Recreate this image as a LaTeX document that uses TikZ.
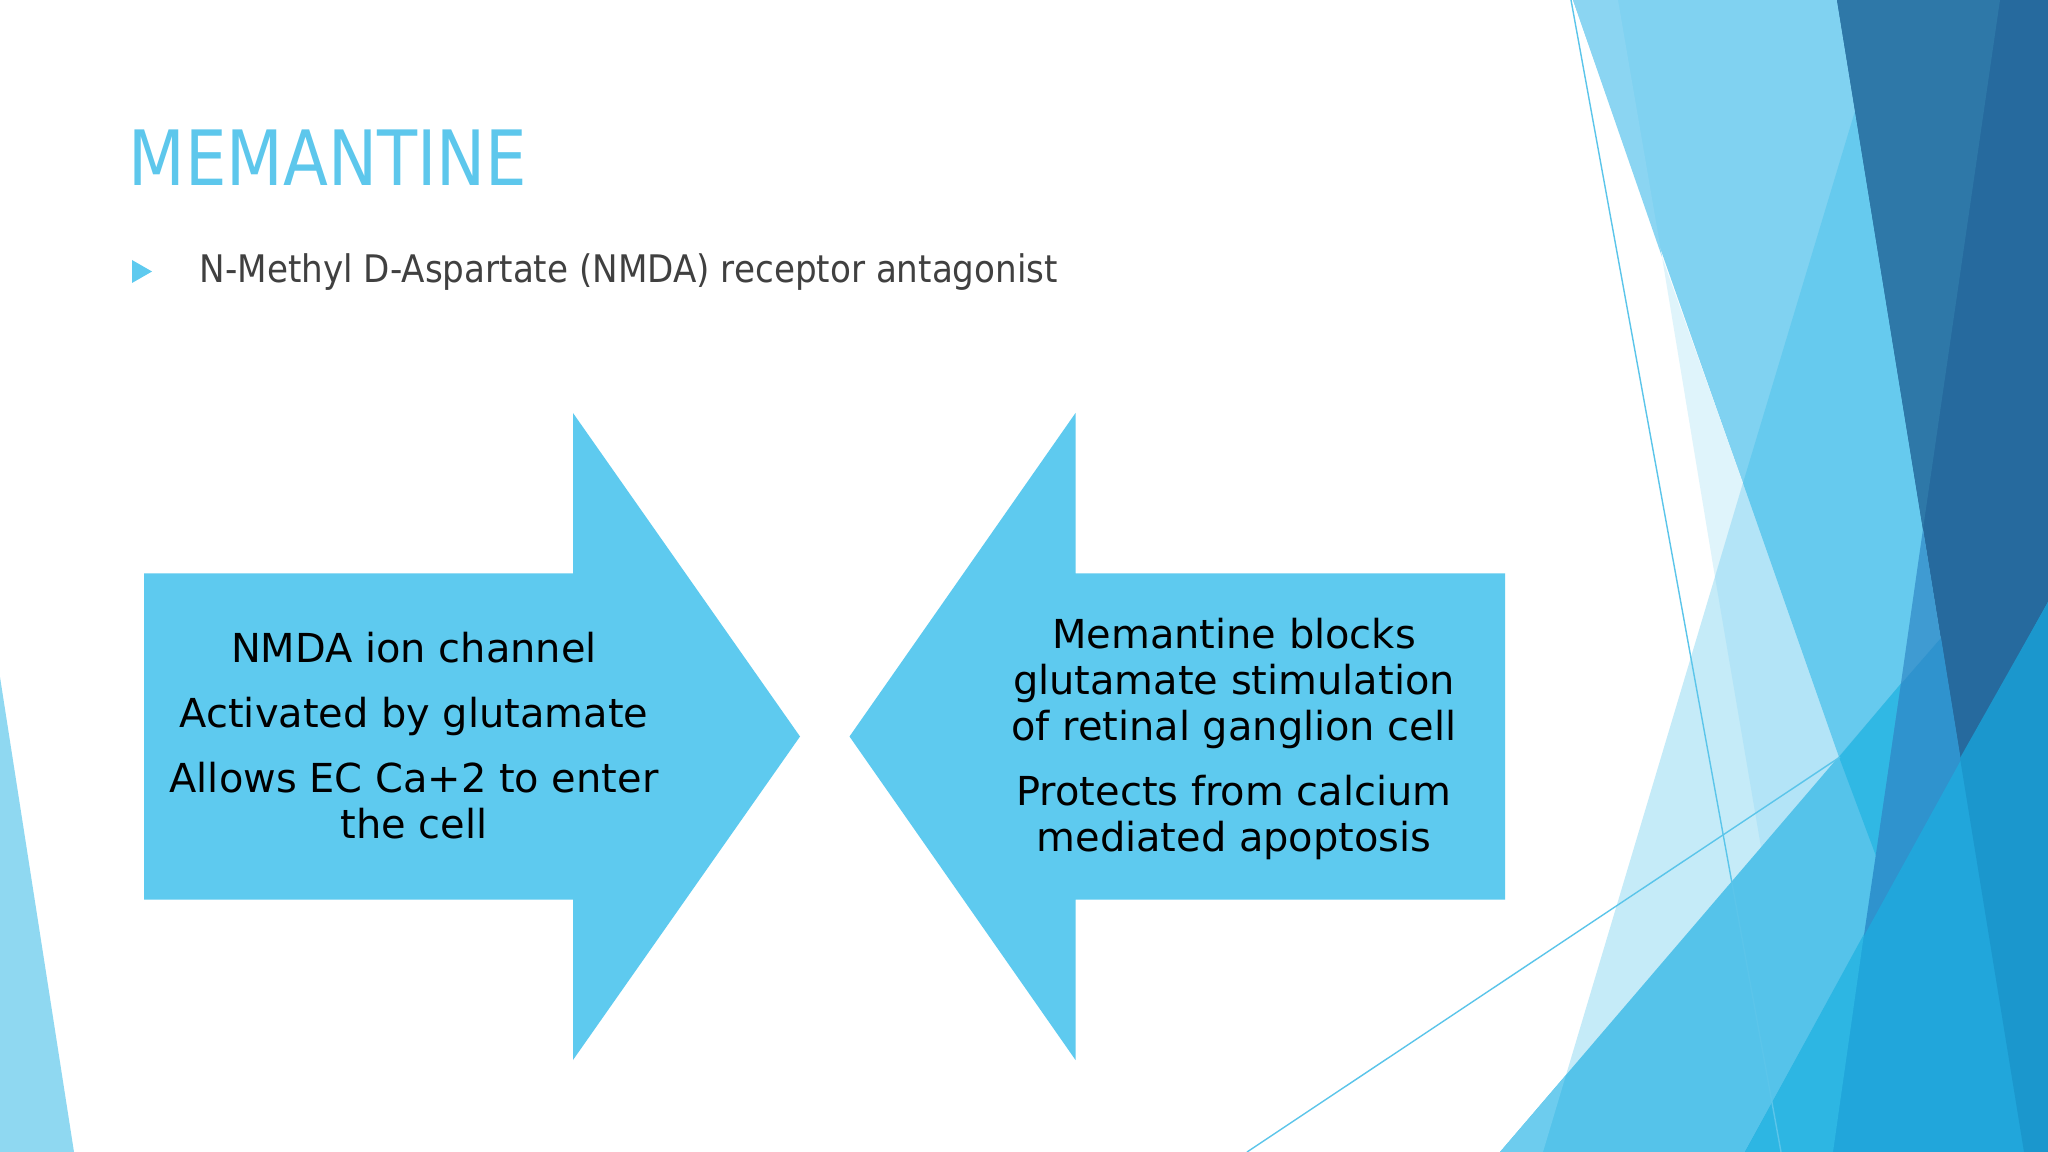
\documentclass[tikz,border=0pt]{standalone}
\usepackage{fontspec}
\setmainfont{DejaVu Sans}
\newfontfamily\titlefont[FakeStretch=0.86]{DejaVu Sans}
\newfontfamily\leadfont[FakeStretch=0.9]{DejaVu Sans}
\usepackage{tikz}
\usetikzlibrary{positioning}
\usepackage{xcolor}
\definecolor{accent}{RGB}{94, 202, 239}
\definecolor{titleBlue}{RGB}{93, 199, 236}
\definecolor{bodyGrey}{RGB}{64, 64, 64}
\definecolor{thinLine}{RGB}{91, 197, 234}
% facet colours
\definecolor{fEdge}{RGB}{143, 216, 241}
\definecolor{fLight}{RGB}{128, 210, 241}
\definecolor{fLighter}{RGB}{139, 213, 242}
\definecolor{fPale}{RGB}{223, 244, 251}
\definecolor{fPaleB}{RGB}{197, 235, 248}
\definecolor{fPaleC}{RGB}{179, 228, 247}
\definecolor{fCyan}{RGB}{102, 202, 238}
\definecolor{fDark}{RGB}{38, 106, 158}
\definecolor{fDarkB}{RGB}{46, 120, 168}
\definecolor{fMid}{RGB}{63, 155, 210}
\definecolor{fSky}{RGB}{85, 195, 234}
\definecolor{fSkyW}{RGB}{109, 204, 238}
\definecolor{fBright}{RGB}{48, 184, 228}
\definecolor{fSteel}{RGB}{47, 147, 206}
\definecolor{fDeep}{RGB}{33, 166, 219}
\definecolor{fDeepL}{RGB}{45, 182, 227}
\definecolor{fDeepR}{RGB}{27, 151, 205}

\begin{document}
\begin{tikzpicture}[
  x=0.01cm, y=-0.01cm,
  hairline/.style={draw=thinLine, line width=0.4pt},
  arrowbox/.style={fill=accent, draw=none},
  bodytext/.style={align=center, inner sep=0pt, text=black,
    font=\fontsize{11.35pt}{13.1pt}\selectfont}
]
  \fill[white] (0,0) rectangle (2048,1152);
  \useasboundingbox (0,0) rectangle (2048,1152);

  % --- Background facets (lower layers run on under the upper ones) ---
  \fill[fEdge] (0,677) -- (74,1152) -- (0,1152) -- cycle;
  \fill[fLight] (1573,0) -- (2048,0) -- (2048,757) -- (1839,757) -- cycle;
  \fill[fLighter] (1573,0) -- (1618,0) -- (1662,257) -- cycle;
  \fill[fPale] (1662,257) -- (1715,577) -- (1743,483) -- cycle;
  \fill[fPaleB] (1743,483) -- (1839,757) -- (1700,1000) -- (1543,1152) -- cycle;
  \fill[fPaleC] (1715,577) -- (1743,483) -- (1839,757) -- (1800,900) -- (1770,900) -- cycle;
  \fill[fCyan] (1855,111) -- (1743,483) -- (1860,817) -- (2000,650) -- (1900,100) -- cycle;
  \fill[fSky] (1500,1152) -- (1960,615) -- (2048,615) -- (2048,1152) -- cycle;
  \fill[fSkyW] (1500,1152) -- (1566,1075) -- (1543,1152) -- cycle;
  \fill[fBright] (1839,757) -- (1920,661) -- (1920,800) -- (1876,856) -- cycle;
  % dark band on the right
  \fill[fDark] (1837,0) -- (2048,0) -- (2048,1152) -- (2024,1152) -- cycle;
  \fill[fDarkB] (1837,0) -- (2000,0) -- (1923,529) -- cycle;
  \fill[fMid] (1923,529) -- (1960,757) -- (1880,830) -- cycle;
  \fill[fSteel] (1901,684) -- (1941,638) -- (1990,940) -- (1850,1030) -- cycle;
  % bottom right triangle
  \fill[fDeep] (2048,602) -- (2048,1152) -- (1745,1152) -- cycle;
  \fill[fDeepL] (1864,934) -- (1833,1152) -- (1745,1152) -- cycle;
  \fill[fDeepR] (1960,758) -- (2048,602) -- (2048,1152) -- (2024,1152) -- cycle;
  \draw[hairline] (1571,0) -- (1781,1152);
  \draw[hairline] (1247,1152) -- (1840,757);

  % --- Title and bullet ---
  \node[anchor=base west, inner sep=0pt, text=titleBlue,
    font=\titlefont\fontsize{21.7pt}{26pt}\selectfont] (title) at (128,186) {MEMANTINE};
  \fill[accent] (132,260) -- (152,271.5) -- (132,283) -- cycle;
  \node[anchor=base west, inner sep=0pt, text=bodyGrey,
    font=\leadfont\fontsize{10.8pt}{13pt}\selectfont] (lead) at (199,283)
    {N-Methyl D-Aspartate (NMDA) receptor antagonist};

  % --- Two opposing arrows ---
  \fill[arrowbox] (144,573.5) -- (573,573.5) -- (573,413) -- (800,736.5)
    -- (573,1060) -- (573,899.5) -- (144,899.5) -- cycle;
  \fill[arrowbox] (1505,573.5) -- (1075.5,573.5) -- (1075.5,413) -- (849.5,736.5)
    -- (1075.5,1060) -- (1075.5,899.5) -- (1505,899.5) -- cycle;

  \node[bodytext, anchor=north] (channel) at (414,631)
    {NMDA ion channel\\[5.4pt]
     Activated by glutamate\\[5.4pt]
     Allows EC Ca+2 to enter\\
     the cell};
  \node[bodytext, anchor=north] (blocker) at (1234,617)
    {Memantine blocks\\
     glutamate stimulation\\
     of retinal ganglion cell\\[5.4pt]
     Protects from calcium\\
     mediated apoptosis};
\end{tikzpicture}
\end{document}
